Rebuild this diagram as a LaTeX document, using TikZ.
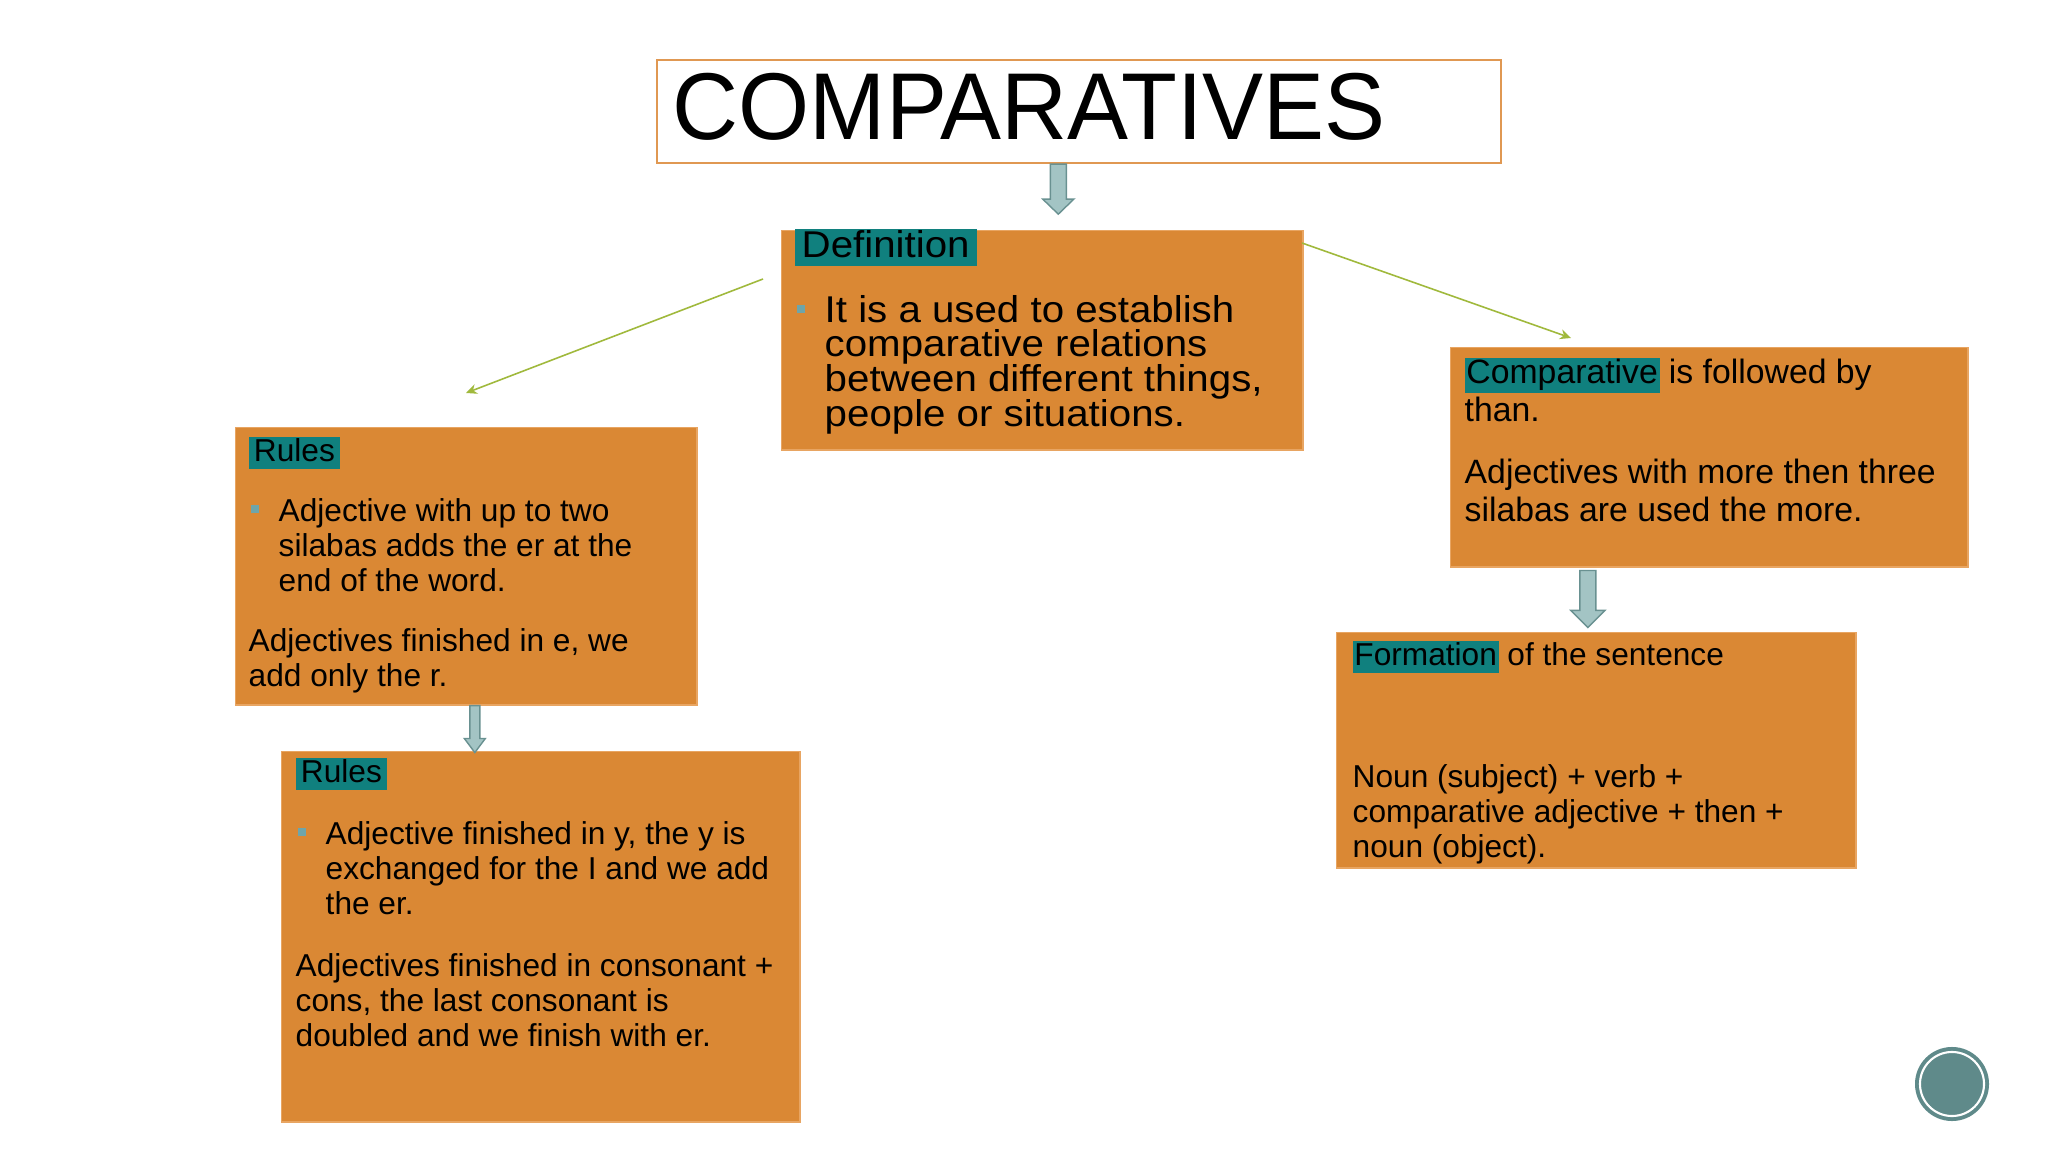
\documentclass[tikz,border=0pt]{standalone}
\usepackage{fontspec}
\setmainfont{Liberation Sans}
\newfontfamily\widefont[FakeStretch=1.08]{Liberation Sans}
\newfontfamily\titlefont[FakeStretch=0.963]{Liberation Sans}
\usetikzlibrary{positioning,arrows.meta}

\definecolor{boxorange}{RGB}{218,136,52}
\definecolor{boxedge}{RGB}{232,165,98}
\definecolor{labelteal}{RGB}{16,128,126}
\definecolor{bulletteal}{RGB}{110,165,170}
\definecolor{linegreen}{RGB}{160,185,60}
\definecolor{arrowfill}{RGB}{163,196,196}
\definecolor{arrowedge}{RGB}{105,145,145}
\definecolor{titleedge}{RGB}{224,152,82}
\definecolor{dotteal}{RGB}{95,138,138}

\newcommand{\lbl}[2][0pt]{{\setlength{\fboxsep}{0.5pt}\colorbox{labelteal}{\rule[-.17em]{0pt}{.87em}\hspace{#1}#2\hspace{#1}}}}
\newcommand{\bul}{\makebox[0.3cm][l]{\hspace{0.02cm}\textcolor{bulletteal}{\rule[.25em]{0.08cm}{0.08cm}}}}
\newcommand{\ind}{\hspace*{0.3cm}}
\newcommand{\deffont}{\widefont\fontsize{10.6}{9.9}\selectfont\lineskiplimit=-30pt\relax}

\tikzset{
  box/.style={fill=boxorange, draw=boxedge, line width=0.4pt, anchor=north west, inner sep=0pt},
  boxtext/.style={anchor=north west, inner sep=0pt, align=left, font=\fontsize{9}{10}\selectfont},
  link/.style={linegreen, line width=0.45pt, -{Stealth[length=1.1mm,width=1mm]}},
  pics/blockdown/.style n args={3}{code={
    \draw[fill=arrowfill, draw=arrowedge, line width=0.4pt]
      ({-#3/2},0) -- ({#3/2},0) -- ({#3/2},{0.7*#1}) -- ({#2/2},{0.7*#1})
      -- (0,#1) -- ({-#2/2},{0.7*#1}) -- ({-#3/2},{0.7*#1}) -- cycle;
  }}
}

\begin{document}
\begin{tikzpicture}[x=0.01cm, y=-0.01cm]
    \fill[white] (0,0) rectangle (2048,1152);
    \useasboundingbox (0,0) rectangle (2048,1152);

    % title
    \node[box, fill=white, draw=titleedge, line width=0.6pt, minimum width=8.43cm, minimum height=1.03cm] (title) at (656,59) {};
    \node[anchor=base west, inner sep=0pt, font=\titlefont\fontsize{27}{30}\selectfont] (titletxt) at ([shift={(16,81)}]title.north west) {COMPARATIVES};

    % boxes
    \node[box, minimum width=5.21cm, minimum height=2.19cm] (def) at (781,230) {};
    \node[box, minimum width=4.61cm, minimum height=2.77cm] (rules1) at (235,427) {};
    \node[box, minimum width=5.18cm, minimum height=3.70cm] (rules2) at (281,751) {};
    \node[box, minimum width=5.17cm, minimum height=2.19cm] (comp) at (1450,347) {};
    \node[box, minimum width=5.19cm, minimum height=2.35cm] (form) at (1336,632) {};

    % texts
    \node[boxtext, font=\deffont] (deftxt) at ([shift={(13,-2)}]def.north west) {\lbl[1.5pt]{Definition}\\[8.5pt]
      \bul It is a used to establish\\
      \ind comparative relations\\
      \ind between different things,\\
      \ind people or situations.};
    \node[boxtext] (rules1txt) at ([shift={(13,9)}]rules1.north west) {\lbl[1pt]{Rules}\\[7pt]
      \bul Adjective with up to two\\
      \ind silabas adds the er at the\\
      \ind end of the word.\\[7pt]
      Adjectives finished in e, we\\
      add only the r.};
    \node[boxtext] (rules2txt) at ([shift={(14,6)}]rules2.north west) {\lbl[1pt]{Rules}\\[7.6pt]
      \bul Adjective finished in y, the y is\\
      \ind exchanged for the I and we add\\
      \ind the er.\\[7.6pt]
      Adjectives finished in consonant +\\
      cons, the last consonant is\\
      doubled and we finish with er.};
    \node[boxtext, font=\fontsize{9.6}{10.6}\selectfont] (comptxt) at ([shift={(14,10)}]comp.north west) {\lbl{Comparative} is followed by\\
      than.\\[7.2pt]
      Adjectives with more then three\\
      silabas are used the more.};
    \node[boxtext] (formtxt) at ([shift={(16,8)}]form.north west) {\lbl{Formation} of the sentence\\[24.7pt]
      Noun (subject) + verb +\\
      comparative adjective + then +\\
      noun (object).};

    % block arrows
    \pic at ([shift={(-20.5,0)}]title.south) {blockdown={50}{31}{16}};
    \pic at ([shift={(8.5,0)}]rules1.south) {blockdown={47}{21}{10}};
    \pic at ([shift={(-121.5,3)}]comp.south) {blockdown={57}{34}{16}};

    % thin links
    \coordinate (lstart) at (763,279);
    \coordinate (lend) at (466,393);
    \coordinate (rstart) at (1302,243);
    \coordinate (rend) at (1571,338);
    \draw[link] (lstart) -- (lend);
    \draw[link] (rstart) -- (rend);

    % corner dot
    \node[circle, fill=dotteal, inner sep=0pt, minimum size=0.74cm] (dot) at (1952,1084) {};
    \draw[white, line width=0.6pt] (dot.center) circle[radius=0.32cm];
\end{tikzpicture}
\end{document}
